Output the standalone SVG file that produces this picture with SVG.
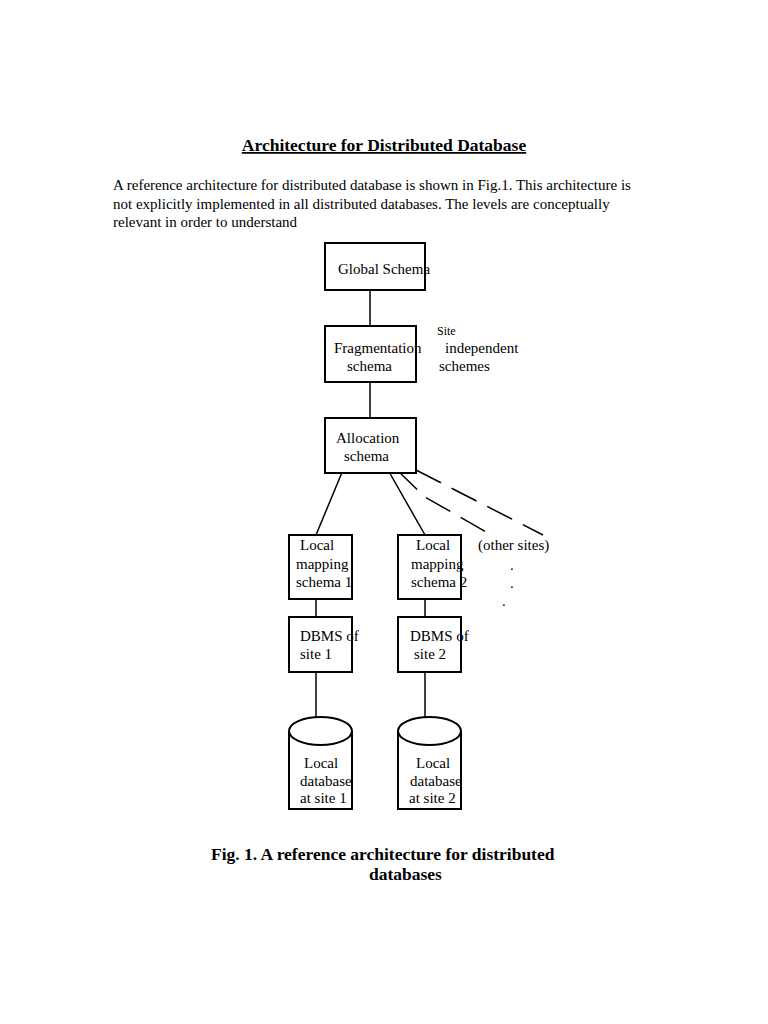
<svg xmlns="http://www.w3.org/2000/svg" width="768" height="1024" viewBox="0 0 768 1024">
<style>
text{font-family:"Liberation Serif",serif;font-size:15px;fill:#000}
.t{font-weight:bold;font-size:17.5px}
.s{font-size:12px}
.b{fill:#fff;stroke:#000;stroke-width:2}
.c{stroke:#000;stroke-width:1.5;fill:none}
.d{stroke:#000;stroke-width:1.5;fill:none;stroke-dasharray:28,12}
</style>
<rect width="768" height="1024" fill="#fff"/>
<text class="t" x="384" y="151" text-anchor="middle" text-decoration="underline">Architecture for Distributed Database</text>
<text x="113" y="190">A reference architecture for distributed database is shown in Fig.1.  This architecture is</text>
<text x="113" y="209">not explicitly implemented in all distributed databases. The levels are conceptually</text>
<text x="113" y="227">relevant in order to understand</text>
<g id="connectors">
<line class="c" x1="370" y1="290" x2="370" y2="326"/>
<line class="c" x1="370" y1="382" x2="370" y2="418"/>
<line class="c" x1="343" y1="470" x2="316" y2="535"/>
<line class="c" x1="388" y1="470" x2="425" y2="535"/>
<polyline class="d" points="397,470 425,497 488,533"/>
<line class="d" x1="416" y1="470" x2="543" y2="535"/>
<line class="c" x1="316" y1="599" x2="316" y2="617"/>
<line class="c" x1="425" y1="599" x2="425" y2="617"/>
<line class="c" x1="316" y1="672" x2="316" y2="718"/>
<line class="c" x1="425" y1="672" x2="425" y2="718"/>
</g>
<g id="global"><rect class="b" x="325" y="243" width="100" height="47"/><text x="338" y="274">Global Schema</text></g>
<g id="frag"><rect class="b" x="325" y="326" width="91" height="56"/><text x="334" y="353">Fragmentation</text><text x="347" y="371">schema</text></g>
<g id="siteind"><text class="s" x="437" y="335">Site</text><text x="445" y="353">independent</text><text x="439" y="371">schemes</text></g>
<g id="alloc"><rect class="b" x="325" y="418" width="91" height="55"/><text x="336" y="443">Allocation</text><text x="344" y="461">schema</text></g>
<g id="lms1"><rect class="b" x="289" y="535" width="63" height="64"/><text x="300" y="550">Local</text><text x="296" y="569">mapping</text><text x="296" y="587">schema 1</text></g>
<g id="lms2"><rect class="b" x="398" y="535" width="63" height="64"/><text x="416" y="550">Local</text><text x="411" y="569">mapping</text><text x="411" y="587">schema 2</text></g>
<g id="other"><text x="478" y="550">(other sites)</text><text x="510" y="570">.</text><text x="510" y="588">.</text><text x="502" y="606">.</text></g>
<g id="dbms1"><rect class="b" x="289" y="617" width="63" height="55"/><text x="300" y="641">DBMS of</text><text x="300" y="659">site 1</text></g>
<g id="dbms2"><rect class="b" x="398" y="617" width="63" height="55"/><text x="410" y="641">DBMS of</text><text x="414" y="659">site 2</text></g>
<g id="db1"><path class="b" d="M289,731 V809 H352 V731"/><ellipse class="b" cx="320.5" cy="731" rx="31.5" ry="14"/><text x="304" y="768">Local</text><text x="300" y="786">database</text><text x="300" y="803">at site 1</text></g>
<g id="db2"><path class="b" d="M398,731 V809 H461 V731"/><ellipse class="b" cx="429.5" cy="731" rx="31.5" ry="14"/><text x="416" y="768">Local</text><text x="410" y="786">database</text><text x="409" y="803">at site 2</text></g>
<text class="t" x="211" y="860">Fig. 1.  A reference architecture for distributed</text>
<text class="t" x="369" y="880">databases</text>
</svg>
